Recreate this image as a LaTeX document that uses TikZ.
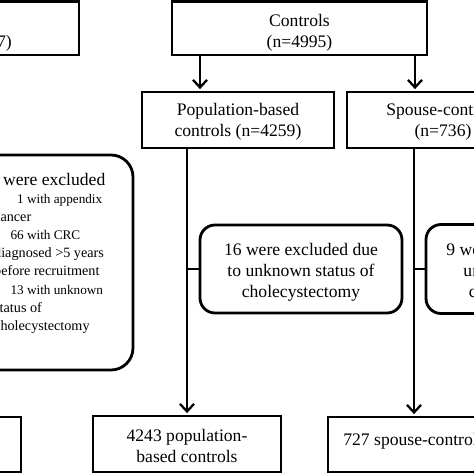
\documentclass[tikz,border=0pt]{standalone}
\usepackage{fontspec}
\setmainfont{Liberation Serif}
\usetikzlibrary{arrows.meta}
\newcommand{\itemfont}{\fontsize{13.2}{18.2}\selectfont}
\begin{document}
\begin{tikzpicture}[x=1pt,y=-1pt,
  box/.style={draw, line width=2.8pt, inner sep=0pt},
  rbox/.style={box, rounded corners=15pt},
  conn/.style={line width=2.3pt},
  arr/.style={conn, -{Straight Barb[length=7.5pt,width=14pt]}, shorten >=1.5pt},
  txt/.style={inner sep=0pt, align=center, anchor=base, font=\fontsize{17.6}{20.8}\selectfont},
  small/.style={inner sep=0pt, align=left, anchor=base west, font=\fontsize{14.2}{18.2}\selectfont}]
\useasboundingbox (0,0) rectangle (474,474);
\clip (0,0) rectangle (474,474);
% boxes
\node[box, minimum width=229pt, minimum height=53.5pt] (cases) at (-35.5,28.25) {};
\node[box, minimum width=255pt, minimum height=53.5pt] (ctrl) at (299.5,28.25) {};
\node[box, minimum width=192pt, minimum height=56pt] (pop) at (238,120) {};
\node[box, minimum width=192pt, minimum height=56pt] (spouse) at (443,120) {};
\node[box, rounded corners=22pt, minimum width=253pt, minimum height=215pt] (exclL) at (6.5,262.5) {};
\node[rbox, minimum width=202pt, minimum height=88pt] (excl16) at (301,269) {};
\node[rbox, minimum width=202pt, minimum height=89pt] (excl9) at (527,269) {};
\node[box, minimum width=171pt, minimum height=55pt] (casesFinal) at (-64.5,444.5) {};
\node[box, minimum width=188pt, minimum height=56pt] (popFinal) at (187,444) {};
\node[box, minimum width=172pt, minimum height=55pt] (spouseFinal) at (414,444.5) {};
% texts (base anchor = baseline of the last line)
\node[txt, anchor=base east] (casesT) at (12,47) {Cases\\(n=3117)};
\node[txt] (ctrlT) at (299.5,47) {Controls\\(n=4995)};
\node[txt] (popT) at (238,136.5) {Population-based\\controls (n=4259)};
\node[txt] (spouseT) at (443,136.5) {Spouse-controls\\(n=736)};
\node[txt] (excl16T) at (301,297) {16 were excluded due\\to unknown status of\\cholecystectomy};
\node[txt] (excl9T) at (528,297) {9 were excluded due to\\unknown status of\\cholecystectomy};
\node[txt] (popFinalT) at (187,462) {4243 population-\\based controls};
\node[txt] (spouseFinalT) at (414,445) {727 spouse-controls};
\node[txt, anchor=base west] (exclHead) at (-19,185) {80 were excluded};
\node[small] (exclList) at (-6,330.4) {{\itemfont\makebox[29.6pt][r]{1} with appendix}\\cancer\\{\itemfont\makebox[29.6pt][r]{66} with CRC}\\diagnosed >5 years\\before recruitment\\{\itemfont\makebox[29.6pt][r]{13} with unknown}\\status of\\cholecystectomy};
% connectors
\coordinate (xa) at (200,0);
\coordinate (xb) at (415,0);
\coordinate (xc) at (187,0);
\coordinate (xd) at (414,0);
\draw[arr] (ctrl.south -| xa) -- (pop.north -| xa);
\draw[arr] (ctrl.south -| xb) -- (spouse.north -| xb);
\draw[arr] (pop.south -| xc) -- (popFinal.north);
\draw[conn] (xc |- excl16.west) -- (excl16.west);
\draw[arr] (spouse.south -| xd) -- (spouseFinal.north);
\draw[conn] (xd |- excl9.west) -- (excl9.west);
\end{tikzpicture}
\end{document}
